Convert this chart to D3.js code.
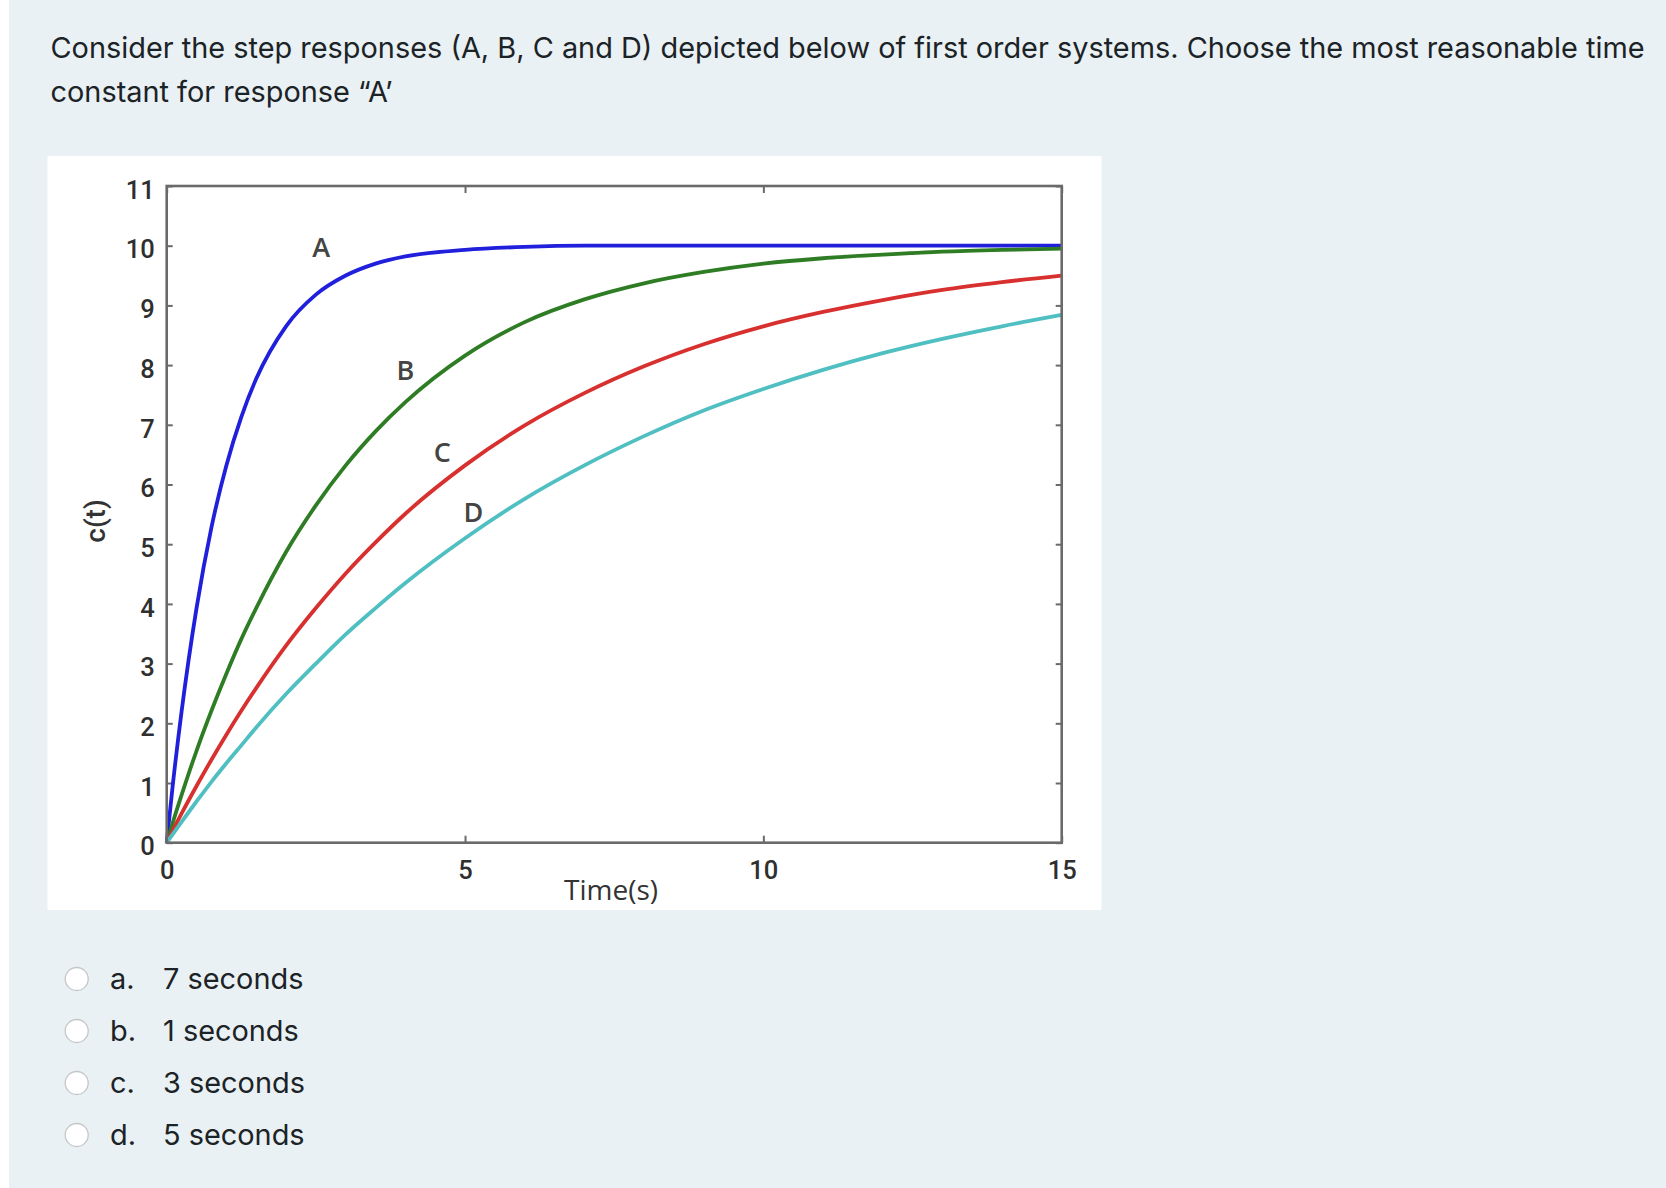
<!DOCTYPE html>
<html>
<head>
<meta charset="utf-8">
<script src="https://cdn.jsdelivr.net/npm/d3@7"></script>
<style>
  html, body { margin: 0; padding: 0; background: #e9f1f4; }
  svg { display: block; }
</style>
</head>
<body>
<div id="viz"></div>
<script>

var times = [0, 0.1, 0.25, 0.5, 0.75, 1, 1.25, 1.5, 2, 2.5, 3, 3.5, 4,
             5, 6, 7, 8, 9, 10, 11, 12, 13, 14, 15];

// c(t) readings for each response
var respA = [0, 0.95, 2.2, 3.93, 5.28, 6.32, 7.13, 7.77, 8.65, 9.18, 9.5, 9.7, 9.82,
             9.93, 9.98, 10, 10, 10, 10, 10, 10, 10, 10, 10];
var respB = [0, 0.33, 0.8, 1.54, 2.21, 2.83, 3.41, 3.93, 4.87, 5.65, 6.32, 6.89, 7.38,
             8.16, 8.72, 9.1, 9.37, 9.56, 9.7, 9.79, 9.85, 9.9, 9.93, 9.95];
var respC = [0, 0.2, 0.49, 0.95, 1.39, 1.81, 2.21, 2.59, 3.3, 3.93, 4.51, 5.03, 5.51,
             6.32, 6.99, 7.53, 7.98, 8.35, 8.65, 8.89, 9.09, 9.26, 9.39, 9.5];
var respD = [0, 0.14, 0.35, 0.69, 1.02, 1.33, 1.63, 1.93, 2.49, 3.0, 3.49, 3.93, 4.35,
             5.1, 5.76, 6.32, 6.81, 7.24, 7.6, 7.92, 8.2, 8.44, 8.65, 8.84];

var seriesNames = ["A", "B", "C", "D"];
var seriesColors = ["#1f1fdc", "#2e7d24", "#d7302e", "#4fbfc2"];

// where the letters sit, in (t, c) units
var labelT = [2.59, 4.0, 4.62, 5.14];
var labelC = [9.97, 7.92, 6.54, 5.54];

var xTicks = [0, 5, 10, 15];
var yTicks = [0, 1, 2, 3, 4, 5, 6, 7, 8, 9, 10, 11];

var titleLines = [
    "Consider the step responses (A, B, C and D) depicted below of first order systems. Choose the most reasonable time",
    "constant for response \u201CA\u2019"
];
var optionKeys = ["a.", "b.", "c.", "d."];
var optionTexts = ["7 seconds", "1 seconds", "3 seconds", "5 seconds"];

var W = 1666, H = 1188;
var svg = d3.select("#viz").append("svg")
        .attr("width", W)
        .attr("height", H);

// page background + thin white strip on the left
svg.append("rect").attr("width", W).attr("height", H).attr("fill", "#e9f1f4");
svg.append("rect").attr("width", 9).attr("height", H).attr("fill", "#ffffff");

// question text, sized so line one spans the same width as the original
var uiFont = "Inter, 'Noto Sans', 'Liberation Sans', sans-serif";
var title = svg.append("g").attr("fill", "#1c2327").style("font-family", uiFont);
var first = title.append("text").attr("x", 50.5).attr("y", 57.5)
        .style("font-size", "28px").text(titleLines[0]);
var fontSize = 28 * 1595 / first.node().getComputedTextLength();
first.style("font-size", fontSize + "px");
title.append("text").attr("x", 50.5).attr("y", 101.5)
    .style("font-size", fontSize + "px").text(titleLines[1]);

// the chart picture
svg.append("rect")
    .attr("x", 47.5).attr("y", 156)
    .attr("width", 1054).attr("height", 754)
    .attr("fill", "#ffffff");

var plot = {left: 166.7, right: 1061.7, top: 186, bottom: 842.7};
var x = d3.scaleLinear().domain([0, 15]).range([plot.left, plot.right]);
var y = d3.scaleLinear().domain([0, 11]).range([plot.bottom, plot.top]);

var tickFont = "Roboto, 'Liberation Sans', Arial, sans-serif";
var axisColor = "#6a6a6a";

function styleAxis(g) {
    g.select(".domain").remove();
    g.selectAll(".tick line").attr("stroke", axisColor).attr("stroke-width", 2);
    g.selectAll(".tick text")
        .attr("fill", "#2f2f2f")
        .style("font-family", tickFont)
        .style("font-weight", 500)
        .style("font-size", "25.5px");
}

svg.append("g")
    .attr("transform", "translate(" + plot.left + ",0)")
    .call(d3.axisLeft(y).tickValues(yTicks).tickSize(-6).tickPadding(12))
    .call(styleAxis)
    .selectAll(".tick text").attr("dy", "0.48em");

svg.append("g")
    .attr("transform", "translate(" + plot.right + ",0)")
    .call(d3.axisRight(y).tickValues(yTicks).tickSize(-6).tickFormat(""))
    .call(styleAxis);

svg.append("g")
    .attr("transform", "translate(0," + plot.bottom + ")")
    .call(d3.axisBottom(x).tickValues(xTicks).tickSize(-7).tickPadding(18))
    .call(styleAxis);

svg.append("g")
    .attr("transform", "translate(0," + plot.top + ")")
    .call(d3.axisTop(x).tickValues(xTicks).tickSize(-7).tickFormat(""))
    .call(styleAxis);

// curves
var allSeries = [respA, respB, respC, respD];
var line = d3.line()
        .x(function(d, i) { return x(times[i]); })
        .y(function(d) { return y(d); })
        .curve(d3.curveMonotoneX);

svg.append("g").selectAll("path")
    .data(allSeries)
    .enter().append("path")
    .attr("d", line)
    .attr("fill", "none")
    .attr("stroke", function(d, i) { return seriesColors[i]; })
    .attr("stroke-width", 3.8)
    .attr("stroke-linejoin", "round");

// box around the plot
svg.append("rect")
    .attr("x", plot.left).attr("y", plot.top)
    .attr("width", plot.right - plot.left)
    .attr("height", plot.bottom - plot.top)
    .attr("fill", "none")
    .attr("stroke", axisColor)
    .attr("stroke-width", 2.6);

var letterFont = "'Open Sans', Lato, sans-serif";
svg.append("g").selectAll("text")
    .data(seriesNames)
    .enter().append("text")
    .attr("x", function(d, i) { return x(labelT[i]); })
    .attr("y", function(d, i) { return y(labelC[i]); })
    .attr("dy", "0.36em")
    .attr("text-anchor", "middle")
    .attr("fill", "#444444")
    .style("font-family", letterFont)
    .style("font-weight", 600)
    .style("font-size", "27px")
    .text(function(d) { return d; });

svg.append("text")
    .attr("x", 611).attr("y", 900)
    .attr("text-anchor", "middle")
    .attr("fill", "#333333")
    .style("font-family", letterFont)
    .style("font-size", "28px")
    .text("Time(s)");

svg.append("text")
    .attr("transform", "translate(105,521) rotate(-90)")
    .attr("text-anchor", "middle")
    .attr("fill", "#333333")
    .style("font-family", tickFont)
    .style("font-weight", 500)
    .style("font-size", "28px")
    .text("c(t)");

// answer choices
var options = svg.append("g").style("font-family", uiFont).attr("fill", "#1c2327");
var rows = options.selectAll("g")
        .data(optionTexts)
        .enter().append("g")
        .attr("transform", function(d, i) { return "translate(0," + (979 + i * 52) + ")"; });

rows.append("circle")
    .attr("cx", 76.7).attr("cy", 0).attr("r", 11.5)
    .attr("fill", "#ffffff")
    .attr("stroke", "#c4c6c8")
    .attr("stroke-width", 1.3);

rows.append("text")
    .attr("x", 110).attr("y", 0).attr("dy", "0.36em")
    .style("font-size", fontSize + "px")
    .text(function(d, i) { return optionKeys[i]; });

rows.append("text")
    .attr("x", 163).attr("y", 0).attr("dy", "0.36em")
    .style("font-size", fontSize + "px")
    .text(function(d) { return d; });

</script>
</body>
</html>
